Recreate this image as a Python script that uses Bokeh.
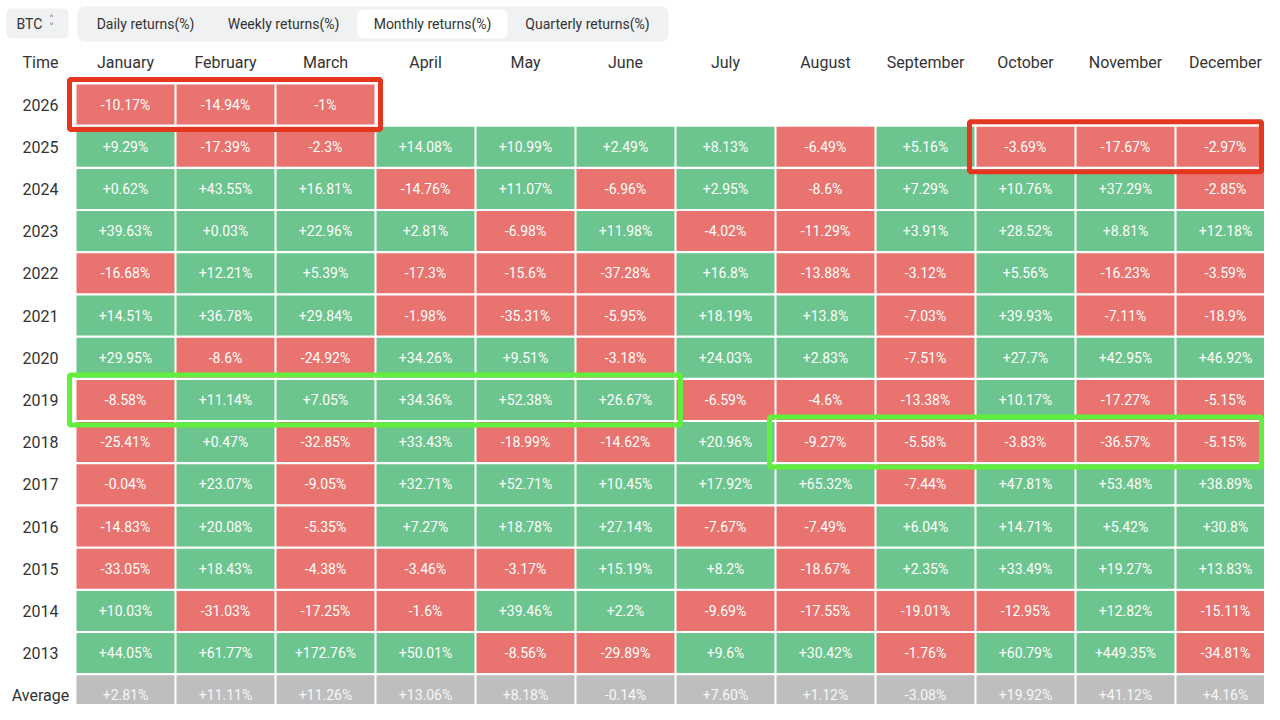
from bokeh.plotting import figure
from bokeh.models import Range1d, ColumnDataSource
from bokeh.core.properties import value
from bokeh.embed import file_html
from bokeh.resources import INLINE

# ---------------- data ----------------
months = ["January", "February", "March", "April", "May", "June", "July",
          "August", "September", "October", "November", "December"]
years = ["2026", "2025", "2024", "2023", "2022", "2021", "2020", "2019",
         "2018", "2017", "2016", "2015", "2014", "2013"]

r2026 = [-10.17, -14.94, -1, None, None, None, None, None, None, None, None, None]
r2025 = [9.29, -17.39, -2.3, 14.08, 10.99, 2.49, 8.13, -6.49, 5.16, -3.69, -17.67, -2.97]
r2024 = [0.62, 43.55, 16.81, -14.76, 11.07, -6.96, 2.95, -8.6, 7.29, 10.76, 37.29, -2.85]
r2023 = [39.63, 0.03, 22.96, 2.81, -6.98, 11.98, -4.02, -11.29, 3.91, 28.52, 8.81, 12.18]
r2022 = [-16.68, 12.21, 5.39, -17.3, -15.6, -37.28, 16.8, -13.88, -3.12, 5.56, -16.23, -3.59]
r2021 = [14.51, 36.78, 29.84, -1.98, -35.31, -5.95, 18.19, 13.8, -7.03, 39.93, -7.11, -18.9]
r2020 = [29.95, -8.6, -24.92, 34.26, 9.51, -3.18, 24.03, 2.83, -7.51, 27.7, 42.95, 46.92]
r2019 = [-8.58, 11.14, 7.05, 34.36, 52.38, 26.67, -6.59, -4.6, -13.38, 10.17, -17.27, -5.15]
r2018 = [-25.41, 0.47, -32.85, 33.43, -18.99, -14.62, 20.96, -9.27, -5.58, -3.83, -36.57, -5.15]
r2017 = [-0.04, 23.07, -9.05, 32.71, 52.71, 10.45, 17.92, 65.32, -7.44, 47.81, 53.48, 38.89]
r2016 = [-14.83, 20.08, -5.35, 7.27, 18.78, 27.14, -7.67, -7.49, 6.04, 14.71, 5.42, 30.8]
r2015 = [-33.05, 18.43, -4.38, -3.46, -3.17, 15.19, 8.2, -18.67, 2.35, 33.49, 19.27, 13.83]
r2014 = [10.03, -31.03, -17.25, -1.6, 39.46, 2.2, -9.69, -17.55, -19.01, -12.95, 12.82, -15.11]
r2013 = [44.05, 61.77, 172.76, 50.01, -8.56, -29.89, 9.6, 30.42, -1.76, 60.79, 449.35, -34.81]
average = [2.81, 11.11, 11.26, 13.06, 8.18, -0.14, 7.60, 1.12, -3.08, 19.92, 41.12, 4.16]

year_rows = [r2026, r2025, r2024, r2023, r2022, r2021, r2020,
             r2019, r2018, r2017, r2016, r2015, r2014, r2013]

tabs = ["Daily returns(%)", "Weekly returns(%)", "Monthly returns(%)", "Quarterly returns(%)"]
selected_tab = "Monthly returns(%)"
asset = "BTC"

# highlighted blocks: (year, first month index, last month index, colour)
highlights = [("2026", 0, 2, "#e5371f"), ("2025", 9, 11, "#e5371f"),
              ("2019", 0, 5, "#62ee3c"), ("2018", 7, 11, "#62ee3c")]

# ---------------- style / layout ----------------
GREEN = "#6cc48e"
RED = "#e9736f"
GRAY = "#bebebe"
FONT = value("Roboto")
TXT = "#333333"

X0, COL_W = 75, 100          # left edge of grid, column pitch (px)
Y0, ROW_H = 104, 42.2        # first row centre, row pitch (px)
CELL_W, CELL_H = 98, 40
LABEL_X = 40
HEADER_Y = 62
W, H = 1264, 704             # figure size (1 data unit = 1 px)

p = figure(width=W, height=H, x_range=Range1d(0, W), y_range=Range1d(H, 0),
           output_backend="svg", toolbar_location=None,
           x_axis_location=None, y_axis_location=None, min_border=0)
p.grid.visible = False
p.outline_line_color = None
p.background_fill_color = "white"
p.border_fill_color = "white"

# ---------------- cells ----------------
cx, cy, col, lab, lab_col = [], [], [], [], []
all_rows = year_rows + [average]
for j, row in enumerate(all_rows):
    for i, v in enumerate(row):
        if v is None:
            continue
        cx.append(X0 + COL_W * i + COL_W / 2)
        cy.append(Y0 + ROW_H * j)
        if j == len(year_rows):
            col.append(GRAY)
            lab.append(f"{v:+.2f}%")
            lab_col.append("#f7f7f7")
        else:
            col.append(GREEN if v >= 0 else RED)
            lab.append(f"{v:+g}%")
            lab_col.append("white")

src = ColumnDataSource(dict(x=cx, y=cy, c=col, t=lab, tc=lab_col))
p.rect(x="x", y="y", width=CELL_W, height=CELL_H, fill_color="c", line_color=None, source=src)
p.text(x="x", y="y", text="t", text_color="tc", text_align="center", text_baseline="middle",
       text_font=FONT, text_font_size="14px", source=src)

# ---------------- headers & row labels ----------------
p.text(x=[LABEL_X] + [X0 + COL_W * i + COL_W / 2 for i in range(len(months))],
       y=[HEADER_Y] * (len(months) + 1), text=["Time"] + months,
       text_align="center", text_baseline="middle", text_font=FONT,
       text_font_size="16px", text_color=TXT)
row_labels = years + ["Average"]
p.text(x=[LABEL_X] * len(row_labels), y=[Y0 + ROW_H * j for j in range(len(row_labels))],
       text=row_labels, text_align="center", text_baseline="middle", text_font=FONT,
       text_font_size="16px", text_color=TXT)

# ---------------- highlight boxes ----------------
for yr, c0, c1, hc in highlights:
    j = years.index(yr)
    yc = Y0 + ROW_H * j
    left = X0 + COL_W * c0 - 6
    right = min(X0 + COL_W * (c1 + 1) + 5, W - 3)
    p.quad(left=[left], right=[right], top=[yc - 25], bottom=[yc + 25],
           fill_color=None, line_color=hc, line_width=5)

# ---------------- top controls ----------------
p.quad(left=[6], right=[68], top=[8], bottom=[38], fill_color="#f0f1f3",
       line_color=None, border_radius=5)
p.text(x=[16], y=[23], text=[asset], text_align="left", text_baseline="middle",
       text_font=FONT, text_font_size="14px", text_color=TXT)
p.text(x=[51, 51], y=[19, 27], text=["\u02c4", "\u02c5"], text_align="center",
       text_baseline="middle", text_font=value("DejaVu Sans"), text_font_size="10px",
       text_color="#777777")

p.quad(left=[77], right=[668], top=[6], bottom=[41], fill_color="#f0f1f3",
       line_color=None, border_radius=7)
tab_x = [145, 283, 432, 587]
tab_w = [130, 140, 150, 158]
k = tabs.index(selected_tab)
p.quad(left=[tab_x[k] - tab_w[k] / 2], right=[tab_x[k] + tab_w[k] / 2], top=[9], bottom=[38],
       fill_color="white", line_color=None, border_radius=6)
p.text(x=tab_x, y=[23] * len(tabs), text=tabs, text_align="center", text_baseline="middle",
       text_font=FONT, text_font_size="14px", text_color=TXT)

open("out.html", "w").write(file_html(p, INLINE))
